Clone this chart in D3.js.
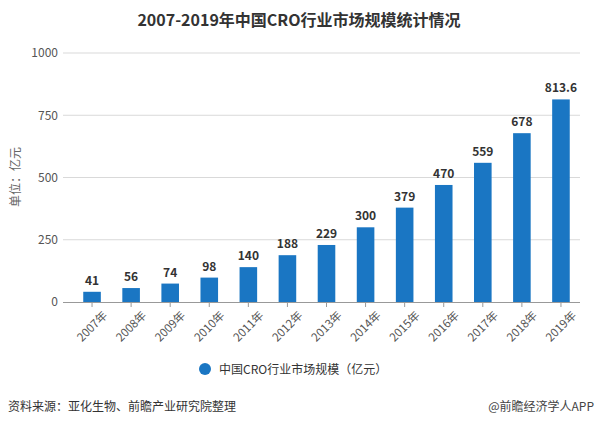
<!DOCTYPE html>
<html><head><meta charset="utf-8">
<script src="https://cdn.jsdelivr.net/npm/d3@7"></script>
<style>body{margin:0;background:#fff;font-family:"Microsoft YaHei","Noto Sans CJK SC",sans-serif;}</style>
</head><body><svg id="c" width="596" height="426"></svg>
<script>
const years = ["2007年","2008年","2009年","2010年","2011年","2012年","2013年","2014年","2015年","2016年","2017年","2018年","2019年"];
const values = [41,56,74,98,140,188,229,300,379,470,559,678,813.6];
const yTicks = [0,250,500,750,1000];
const title = "2007-2019年中国CRO行业市场规模统计情况";
const seriesName = "中国CRO行业市场规模（亿元）";
const unitLabel = "单位：亿元";
const source = "资料来源：亚化生物、前瞻产业研究院整理";
const credit = "@前瞻经济学人APP";

const svg = d3.select("#c");
const font = '"Noto Sans CJK SC",sans-serif';
const x = d3.scaleBand().domain(years).range([72.5,580.5]).paddingInner(0.55).paddingOuter(0.275);
const y = d3.scaleLinear().domain([0,1000]).range([302,53]);

svg.append("text").attr("x",299).attr("y",26).attr("text-anchor","middle")
  .attr("font-family",font).attr("font-size",16).attr("font-weight","bold").attr("fill","#333").text(title);

// gridlines
svg.append("g").selectAll("line").data(yTicks.filter(d=>d>0)).join("line")
  .attr("x1",63).attr("x2",580).attr("y1",d=>y(d)).attr("y2",d=>y(d))
  .attr("stroke","#d9d9d9").attr("stroke-width",1);

// y axis labels
const ya = svg.append("g").attr("transform","translate(63,0)")
  .call(d3.axisLeft(y).tickValues(yTicks).tickFormat(d3.format("d")).tickSize(0).tickPadding(5));
ya.select(".domain").remove();
ya.selectAll("text").attr("font-family",font).attr("font-size",12).attr("fill","#555");

svg.append("text").attr("transform","translate(20,177) rotate(-90)").attr("text-anchor","middle")
  .attr("font-family",font).attr("font-size",12).attr("fill","#666").text(unitLabel);

// bars
svg.append("g").selectAll("rect").data(values).join("rect")
  .attr("x",(d,i)=>x(years[i])).attr("width",x.bandwidth())
  .attr("y",d=>y(d)).attr("height",d=>y(0)-y(d)).attr("fill","#1a76c3");

svg.append("g").selectAll("text").data(values).join("text")
  .attr("x",(d,i)=>x(years[i])+x.bandwidth()/2).attr("y",d=>y(d)-7)
  .attr("text-anchor","middle").attr("font-family",font).attr("font-size",12).attr("font-weight","bold").attr("fill","#333")
  .text(d=>d);

// x axis
const xa = svg.append("g").attr("transform","translate(0,302)")
  .call(d3.axisBottom(x).tickSize(5).tickSizeOuter(0).tickPadding(4));
xa.select(".domain").attr("d","M63,0.5H580").attr("stroke","#999");
xa.selectAll(".tick line").attr("stroke","#999");
xa.selectAll("text").attr("font-family",font).attr("font-size",11.5).attr("fill","#555")
  .attr("text-anchor","end").attr("transform","translate(4,2) rotate(-45)").attr("dy","0.7em");

// legend
svg.append("circle").attr("cx",205).attr("cy",369).attr("r",6).attr("fill","#1a76c3");
svg.append("text").attr("x",219).attr("y",373.5).attr("font-family",font).attr("font-size",12).attr("fill","#333").text(seriesName);

svg.append("text").attr("x",8).attr("y",411).attr("font-family",font).attr("font-size",12).attr("fill","#333").text(source);
svg.append("text").attr("x",594).attr("y",411).attr("text-anchor","end").attr("font-family",font).attr("font-size",12).attr("fill","#444").text(credit);
</script></body></html>
